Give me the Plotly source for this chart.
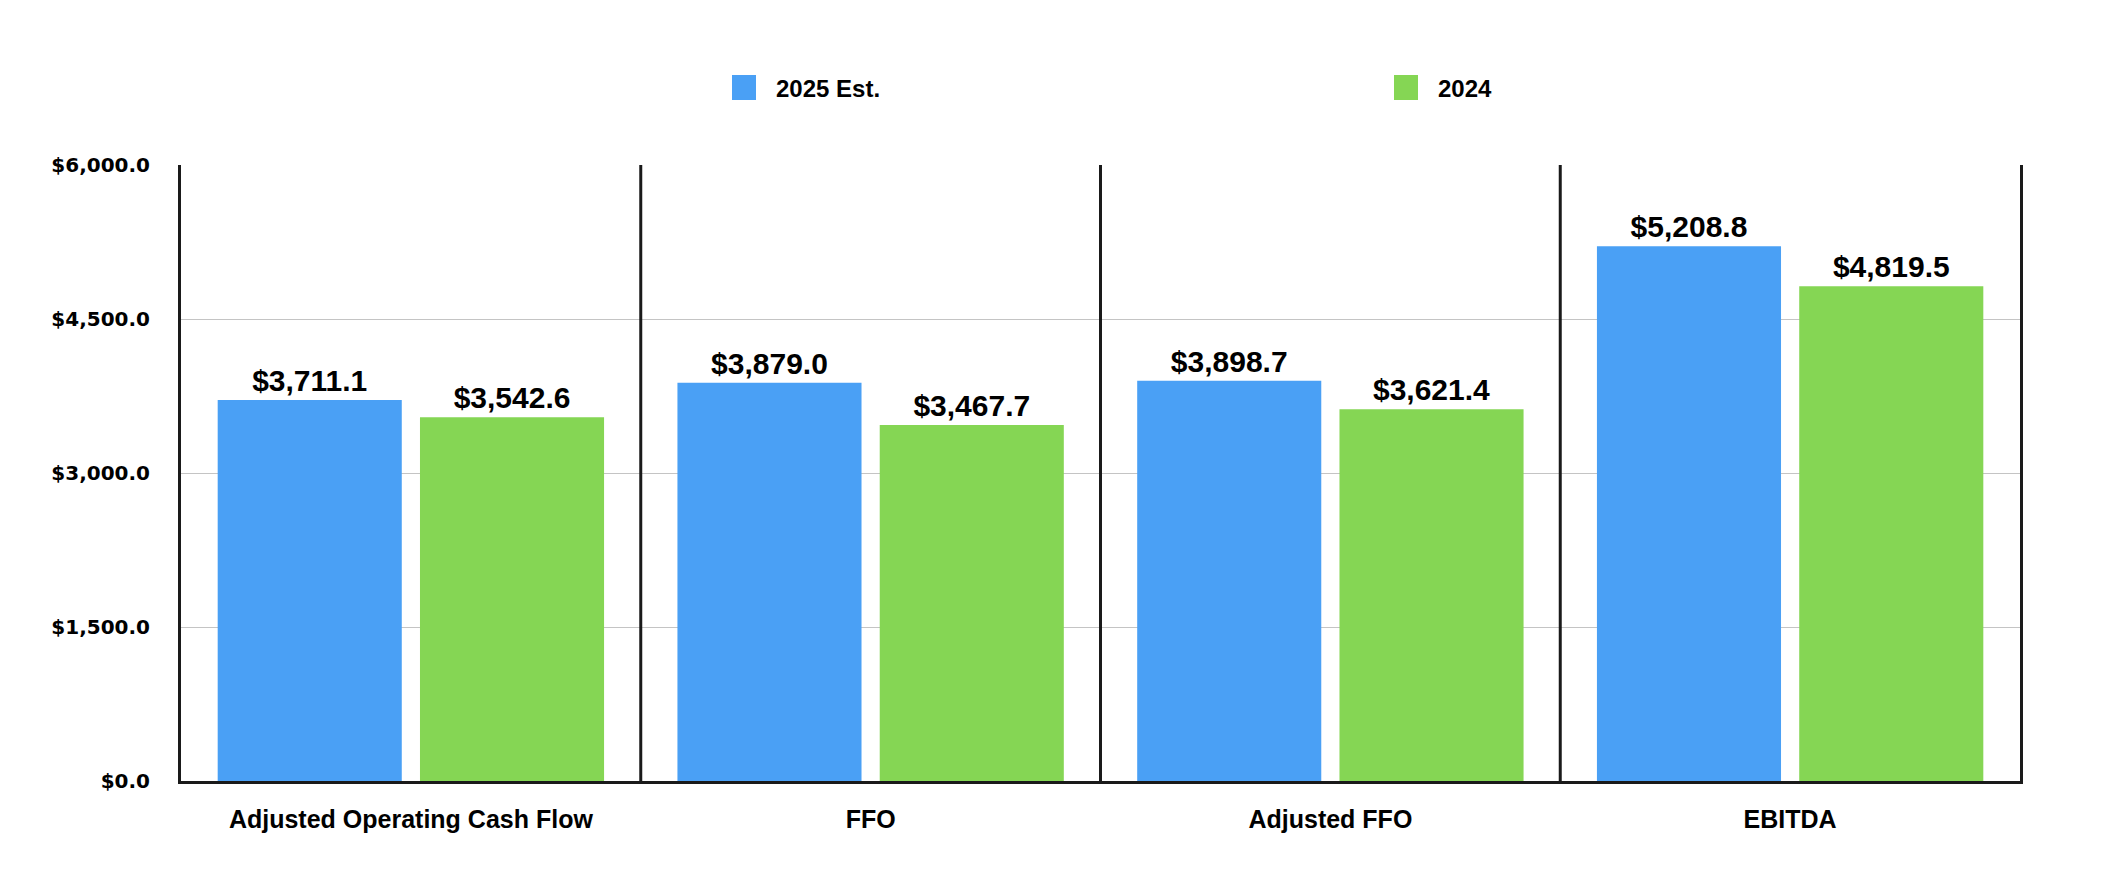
import plotly.graph_objects as go

categories = ["Adjusted Operating Cash Flow", "FFO", "Adjusted FFO", "EBITDA"]
est_2025 = [3711.1, 3879.0, 3898.7, 5208.8]
act_2024 = [3542.6, 3467.7, 3621.4, 4819.5]
series_names = ["2025 Est.", "2024"]
tick_vals = [0, 1500, 3000, 4500, 6000]
tick_text = ["$0.0", "$1,500.0", "$3,000.0", "$4,500.0", "$6,000.0"]

BLUE = "#4aa0f5"
GREEN = "#85d654"
W, H = 2116, 892
ML, MR, MT, MB = 181, 96, 165, 111
SANS = "Liberation Sans, Arial, sans-serif"

fig = go.Figure()
for name, vals, col in [(series_names[0], est_2025, BLUE), (series_names[1], act_2024, GREEN)]:
    fig.add_trace(go.Bar(
        x=categories, y=vals, name=name, marker=dict(color=col, line=dict(width=0)),
        text=[f"${v:,.1f}" for v in vals], textposition="outside", cliponaxis=False,
        textfont=dict(family=SANS, size=30, color="black", weight="bold"),
        showlegend=False,
    ))

shapes = []
for i in range(len(categories) - 1):
    shapes.append(dict(type="line", xref="x", yref="paper", x0=i + 0.5, x1=i + 0.5, y0=0, y1=1,
                       line=dict(color="#1a1a1a", width=3)))

# manual legend
pw = W - ML - MR
ph = H - MT - MB
def px_x(p):
    return (p - ML) / pw
def px_y(p):
    return (H - MB - p) / ph

annotations = []
for name, col, sx in [(series_names[0], BLUE, 732), (series_names[1], GREEN, 1394)]:
    shapes.append(dict(type="rect", xref="paper", yref="paper", x0=px_x(sx), x1=px_x(sx + 24),
                       y0=px_y(100), y1=px_y(75), fillcolor=col, line=dict(width=0)))
    annotations.append(dict(xref="paper", yref="paper", x=px_x(sx + 42), y=px_y(88), text=name,
                            showarrow=False, xanchor="left", yanchor="middle",
                            font=dict(family=SANS, size=24, color="black", weight="bold")))

fig.update_layout(
    width=W, height=H, paper_bgcolor="white", plot_bgcolor="white",
    margin=dict(l=ML, r=MR, t=MT, b=MB),
    barmode="group", bargap=0.12, bargroupgap=0.09,
    shapes=shapes, annotations=annotations, showlegend=False,
    xaxis=dict(range=[-0.5, 3.5], showline=True, linecolor="#1a1a1a", linewidth=3,
               showgrid=False, ticks="", ticklabelstandoff=14,
               tickfont=dict(family=SANS, size=25, color="black", weight="bold")),
    yaxis=dict(range=[0, 6000], tickvals=tick_vals, ticktext=tick_text,
               showline=True, mirror=True, linecolor="#1a1a1a", linewidth=3,
               showgrid=True, gridcolor="#c4c4c4", gridwidth=1, zeroline=False,
               ticks="", ticklabelstandoff=24,
               tickfont=dict(family="DejaVu Sans, sans-serif", size=20, color="black", weight="bold")),
)

fig.write_html("out.html")
